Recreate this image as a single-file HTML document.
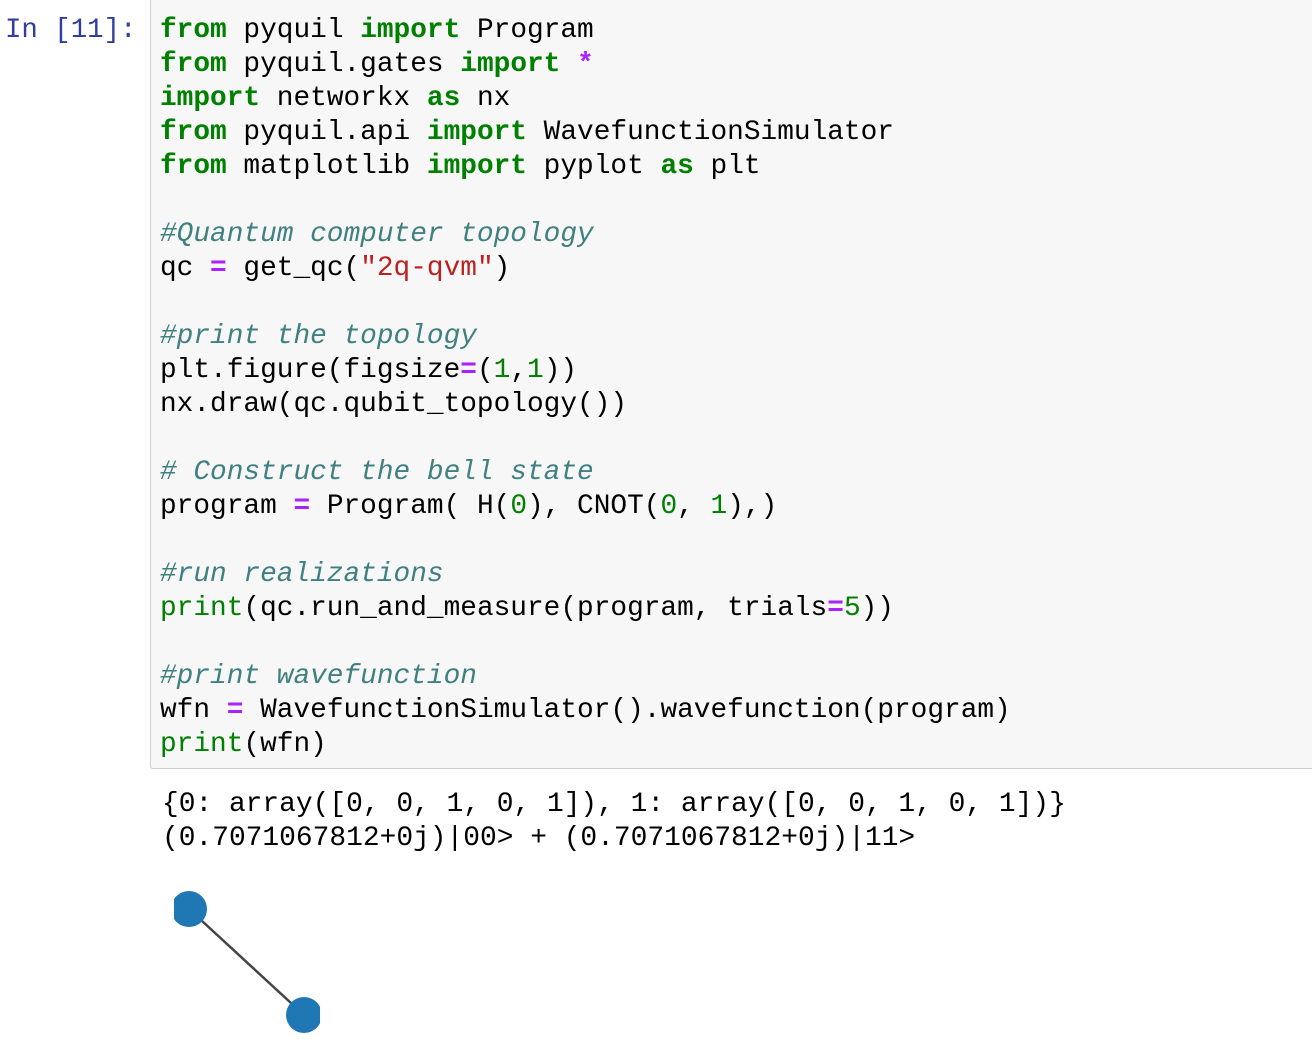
<!DOCTYPE html>
<html><head><meta charset="utf-8"><style>
html,body{margin:0;padding:0;background:#fff;width:1312px;height:1042px;overflow:hidden;position:relative}
.pr{position:absolute;left:5px;top:14px;font:27.4px/34px "Liberation Mono",monospace;color:#303f9f;white-space:pre}
.cell{position:absolute;left:150px;top:-4px;width:1180px;height:773px;background:#f7f7f7;border:1px solid #cfcfcf;border-radius:3px;box-sizing:border-box}
pre{margin:0;position:absolute;font:27.8px/34px "Liberation Mono",monospace;color:#000;white-space:pre}
.k{color:#008000;font-weight:bold}.c{color:#408080;font-style:italic}.s{color:#ba2121}.n{color:#008000}.o{color:#aa22ff;font-weight:bold}.b{color:#008000}
.out{left:162px;top:788px;font-size:27.9px}
</style></head><body>
<div class="pr">In [11]:</div>
<div class="cell"></div>
<pre style="left:160px;top:14px"><span class="k">from</span> pyquil <span class="k">import</span> Program
<span class="k">from</span> pyquil.gates <span class="k">import</span> <span class="o">*</span>
<span class="k">import</span> networkx <span class="k">as</span> nx
<span class="k">from</span> pyquil.api <span class="k">import</span> WavefunctionSimulator
<span class="k">from</span> matplotlib <span class="k">import</span> pyplot <span class="k">as</span> plt

<span class="c">#Quantum computer topology</span>
qc <span class="o">=</span> get_qc(<span class="s">"2q-qvm"</span>)

<span class="c">#print the topology</span>
plt.figure(figsize<span class="o">=</span>(<span class="n">1</span>,<span class="n">1</span>))
nx.draw(qc.qubit_topology())

<span class="c"># Construct the bell state</span>
program <span class="o">=</span> Program( H(<span class="n">0</span>), CNOT(<span class="n">0</span>, <span class="n">1</span>),)

<span class="c">#run realizations</span>
<span class="b">print</span>(qc.run_and_measure(program, trials<span class="o">=</span><span class="n">5</span>))

<span class="c">#print wavefunction</span>
wfn <span class="o">=</span> WavefunctionSimulator().wavefunction(program)
<span class="b">print</span>(wfn)</pre>
<pre class="out">{0: array([0, 0, 1, 0, 1]), 1: array([0, 0, 1, 0, 1])}
(0.7071067812+0j)|00&gt; + (0.7071067812+0j)|11&gt;</pre>
<svg style="position:absolute;left:0;top:0" width="1312" height="1042">
<defs><clipPath id="cp"><rect x="174" y="880" width="146" height="160"/></clipPath></defs>
<g clip-path="url(#cp)">
<line x1="189" y1="909" x2="304" y2="1015" stroke="#444" stroke-width="2.5"/>
<circle cx="189" cy="909" r="18" fill="#1f77b4"/>
<circle cx="304" cy="1015" r="18" fill="#1f77b4"/>
</g>
</svg>
</body></html>
